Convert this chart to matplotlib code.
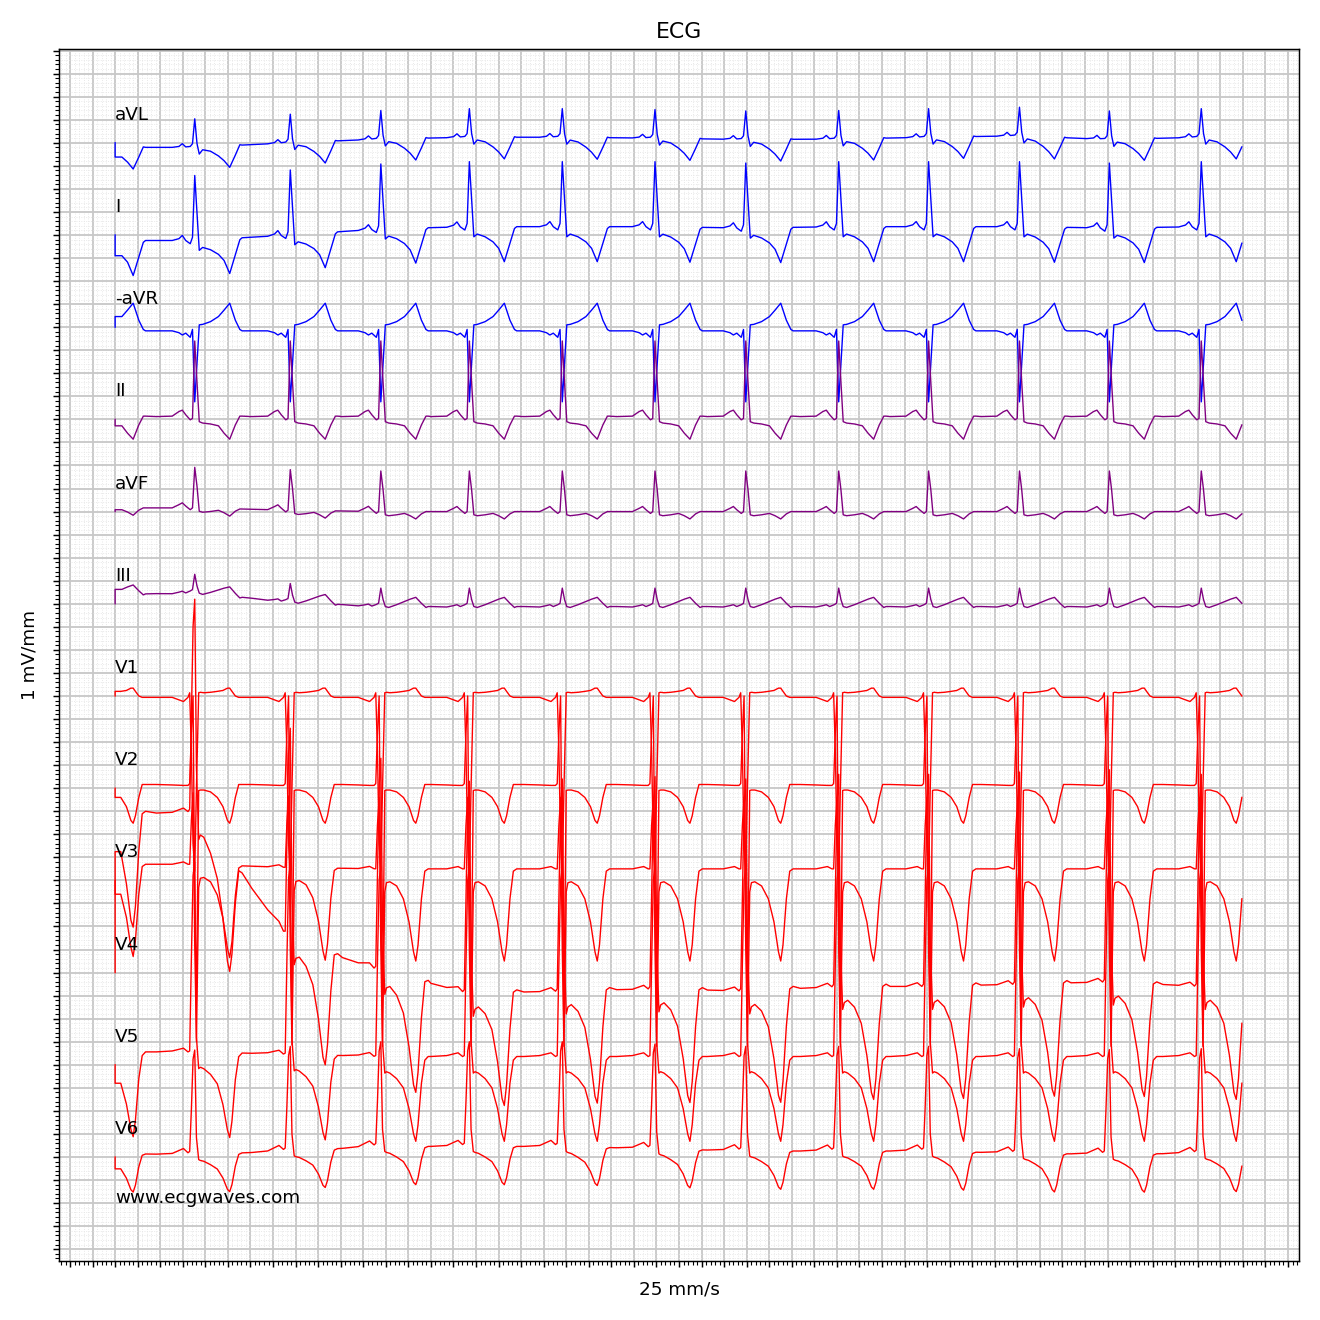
import numpy as np
import matplotlib
matplotlib.use('Agg')
import matplotlib.pyplot as plt
from matplotlib.ticker import MultipleLocator, NullFormatter

DURATION = 10.0  # seconds of recording

lead_names = ['aVL', 'I', '-aVR', 'II', 'aVF', 'III', 'V1', 'V2', 'V3', 'V4', 'V5', 'V6']
lead_colors = ['blue'] * 3 + ['purple'] * 3 + ['red'] * 6

# R peak times (s); the first one is the beat just before the strip starts
r_times = [-0.15, 0.706, 1.553, 2.356, 3.141, 3.965, 4.787, 5.592,
           6.416, 7.213, 8.019, 8.816, 9.631]

# beat templates, time relative to R (s) and amplitude (mV)
limb_t = [-0.34, -0.20, -0.14, -0.11, -0.08, -0.04, -0.02, 0.00, 0.02,
          0.04, 0.07, 0.14, 0.21, 0.26, 0.31, 0.36, 0.40, 0.42]
avl_v = [0.12, 0.12, 0.14, 0.20, 0.13, 0.14, 0.20, 0.74, 0.20,
         -0.03, 0.06, 0.02, -0.09, -0.20, -0.35, -0.09, 0.13, 0.12]
i_v = [0.18, 0.18, 0.22, 0.29, 0.18, 0.11, 0.25, 1.59, 0.76,
       -0.04, 0.02, -0.04, -0.15, -0.29, -0.58, -0.18, 0.14, 0.18]
mavr_v = [-0.08, -0.08, -0.12, -0.17, -0.13, -0.22, -0.05, -1.62, -0.80,
          0.05, 0.06, 0.12, 0.23, 0.37, 0.52, 0.15, -0.05, -0.08]
ii_v = [0.06, 0.07, 0.17, 0.20, 0.10, -0.01, 0.02, 1.70, 0.80,
        -0.05, -0.08, -0.10, -0.14, -0.30, -0.43, -0.12, 0.07, 0.07]
avf_v = [0.00, 0.00, 0.07, 0.11, 0.04, -0.04, 0.00, 0.88, 0.47,
         -0.07, -0.09, -0.07, -0.04, -0.09, -0.16, -0.05, 0.00, 0.00]
iii_v = [-0.06, -0.07, -0.04, -0.02, -0.06, -0.02, 0.01, 0.34, 0.09,
         -0.06, -0.08, -0.02, 0.05, 0.10, 0.14, 0.01, -0.08, -0.06]

chest_t = [-0.34, -0.20, -0.10, -0.06, -0.045, -0.03, -0.015, 0.00, 0.015,
           0.035, 0.05, 0.08, 0.14, 0.20, 0.25, 0.29, 0.31, 0.33, 0.36, 0.39, 0.42]
v1_v = [-0.03, -0.03, -0.12, -0.03, 0.07, -1.2, -3.2, -3.8, -2.0,
        0.07, 0.08, 0.07, 0.08, 0.10, 0.12, 0.17, 0.17, 0.10, 0.00, -0.03, -0.03]
v2_v = [0.08, 0.07, 0.06, 0.06, 0.10, 1.2, 2.0, -2.5, -4.6,
        -0.05, -0.04, -0.04, -0.08, -0.20, -0.40, -0.70, -0.76, -0.60, -0.20, 0.08, 0.08]
v3_v = [0.25, 0.25, 0.30, 0.25, 0.25, 1.2, 1.8, -1.5, -3.6,
        -0.25, -0.05, -0.03, -0.12, -0.40, -0.90, -1.55, -1.75, -1.40, -0.40, 0.20, 0.25]
v4_v = [0.00, 0.00, 0.08, 0.00, 0.05, 2.0, 4.0, 4.6, 1.0,
        -0.50, -0.35, -0.30, -0.45, -0.80, -1.50, -2.30, -2.45, -2.00, -0.80, 0.00, 0.05]
v5_v = [0.18, 0.20, 0.26, 0.18, 0.20, 2.2, 4.0, 4.3, 0.5,
        -0.18, -0.15, -0.18, -0.30, -0.50, -0.95, -1.50, -1.66, -1.30, -0.40, 0.10, 0.18]
v6_v = [0.23, 0.25, 0.36, 0.27, 0.30, 1.2, 2.3, 2.5, 0.6,
        0.12, 0.10, 0.08, 0.00, -0.10, -0.30, -0.55, -0.60, -0.45, -0.05, 0.20, 0.23]

# baseline wander per beat (mV), one value per entry of r_times
avl_w = [-0.22, -0.22, -0.12, -0.04, 0, 0, -0.02, -0.05, -0.04, 0, 0.03, -0.05, 0]
i_w = [-0.30, -0.30, -0.18, -0.05, 0, 0, 0, -0.03, 0, 0, 0, -0.03, 0]
mavr_w = [0] * 13
ii_w = [0] * 13
avf_w = [0.08, 0.08, 0.03, 0, 0, 0, 0, 0, 0, 0, 0, 0, 0]
iii_w = [0.25, 0.30, 0.10, 0, 0, 0, 0, 0, 0, 0, 0, 0, 0]
v1_w = [0] * 13
v2_w = [0] * 13
v3_w = [0.10, 0.10, 0.03, 0, 0, 0, 0, 0, 0, 0, 0, 0, 0]
v4_w = [3.4, 3.5, 0.7, 0.05, -0.45, -0.40, -0.35, -0.40, -0.30, -0.30, -0.25, -0.20, -0.30]
v5_w = [0.10, 0.10, 0.05, 0, 0, 0, 0, 0, 0, 0, 0, 0, 0]
v6_w = [-0.15, -0.18, -0.10, 0, 0, 0, -0.05, -0.10, -0.10, -0.10, -0.15, -0.17, -0.15]

templates = [
    (limb_t, avl_v, avl_w), (limb_t, i_v, i_w), (limb_t, mavr_v, mavr_w),
    (limb_t, ii_v, ii_w), (limb_t, avf_v, avf_w), (limb_t, iii_v, iii_w),
    (chest_t, v1_v, v1_w), (chest_t, v2_v, v2_w), (chest_t, v3_v, v3_w),
    (chest_t, v4_v, v4_w), (chest_t, v5_v, v5_w), (chest_t, v6_v, v6_w),
]


def build_trace(tk, vk, wander):
    ts, vs = [], []
    for r in r_times:
        for t, v in zip(tk, vk):
            tt = r + t
            if 0 < tt <= DURATION:
                ts.append(tt)
                vs.append(v + np.interp(tt, r_times, wander))
    # first sample sits on the baseline
    return np.array([0.0, 0.0] + ts), np.array([0.0, vs[0]] + vs)


fig, ax = plt.subplots(figsize=(10, 10), dpi=132)
fig.subplots_adjust(left=0.0445, right=0.9843, bottom=0.0449, top=0.9631)

for i, (name, color, (tk, vk, wk)) in enumerate(zip(lead_names, lead_colors, templates)):
    offset = -2.0 * i
    t, v = build_trace(tk, vk, wk)
    ax.plot(t, v + offset, color=color, linewidth=0.75)
    ax.text(0, offset + 0.5, name, fontsize=10)

ax.text(0, -23.0, 'www.ecgwaves.com', fontsize=10)

ax.set_xlim(-0.5, 10.5)
ax.set_ylim(-24.25, 2.04)
ax.xaxis.set_major_locator(MultipleLocator(0.2))
ax.xaxis.set_minor_locator(MultipleLocator(0.04))
ax.yaxis.set_major_locator(MultipleLocator(0.5))
ax.yaxis.set_minor_locator(MultipleLocator(0.1))
ax.xaxis.set_major_formatter(NullFormatter())
ax.yaxis.set_major_formatter(NullFormatter())
ax.grid(which='major', color='#c8c8c8', linewidth=1.0)
ax.grid(which='minor', color='#e6e6e6', linewidth=0.5, linestyle=':')
ax.set_axisbelow(True)

ax.set_title('ECG', fontsize=12)
ax.set_xlabel('25 mm/s')
ax.set_ylabel('1 mV/mm')

plt.savefig('out.png')
